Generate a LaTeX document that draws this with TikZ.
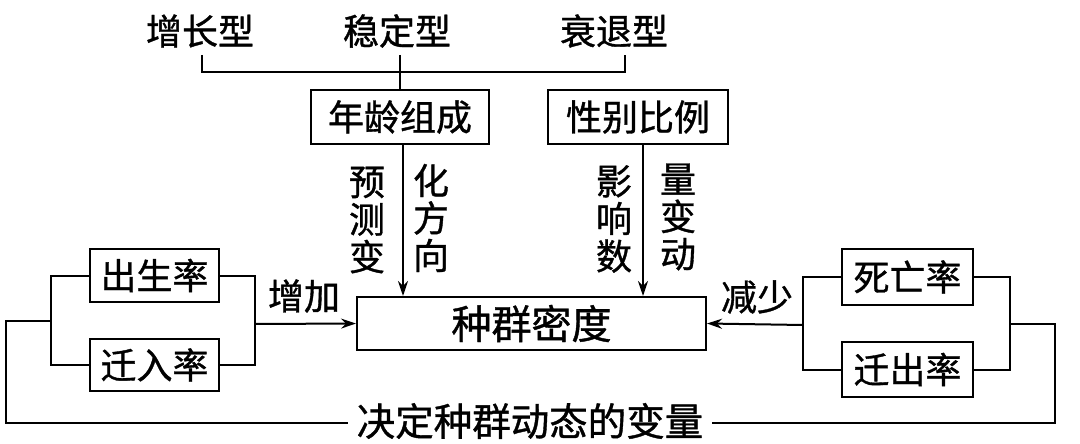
\documentclass[tikz,border=0pt]{standalone}
\usepackage{fontspec}
\setmainfont{Noto Sans CJK SC}[RawFeature={embolden=1}]
\usetikzlibrary{arrows.meta}
\begin{document}
\begin{tikzpicture}[x=1pt,y=-1pt,
  every node/.style={font=\fontsize{36}{37.5}\selectfont, inner sep=0pt},
  bx/.style={draw, line width=2pt, minimum height=54pt},
  ln/.style={line width=2pt},
  arr/.style={line width=2pt, -{Stealth[length=15pt,width=10pt,inset=5pt]}},
  vlab/.style={align=center, text width=40pt}]
\useasboundingbox (0,0) rectangle (1080,444);
% top types
\node (t1) at (200,31) {增长型};
\node (t2) at (397,31) {稳定型};
\node (t3) at (614,31) {衰退型};
\coordinate (c1) at (202,55);
\coordinate (c2) at (400,55);
\coordinate (c3) at (625,55);
\coordinate (j1) at (202,72);
\coordinate (j2) at (400,72);
\coordinate (j3) at (625,72);
% boxes
\node[bx, minimum width=178pt] (age) at (400,117) {年龄组成};
\node[bx, minimum width=180pt] (sex) at (638,117) {性别比例};
\node[bx, minimum width=349pt, minimum height=53pt, font=\fontsize{40}{42}\selectfont] (dens) at (531.5,323.5) {种群密度};
\node[bx, minimum width=129pt, minimum height=53pt] (birth) at (154.5,275.5) {出生率};
\node[bx, minimum width=129pt, minimum height=52pt] (immig) at (154.5,365) {迁入率};
\node[bx, minimum width=131pt, minimum height=56pt] (death) at (907.5,277) {死亡率};
\node[bx, minimum width=131pt, minimum height=55pt] (emig) at (907.5,369.5) {迁出率};
% top connectors
\draw[ln] (c1) -- (j1) -- (j3) -- (c3);
\draw[ln] (c2) -- (age.north);
% arrows from age and sex
\draw[arr] ([xshift=3pt]age.south) -- ([xshift=3pt]age.south |- dens.north);
\draw[arr] ([xshift=5pt]sex.south) -- ([xshift=5pt]sex.south |- dens.north);
% vertical labels
\node[vlab] (l1) at (367,220) {预\\测\\变};
\node[vlab] (l2) at (431,218) {化\\方\\向};
\node[vlab] (l3) at (614,219) {影\\响\\数};
\node[vlab] (l4) at (678,217) {量\\变\\动};
% left brackets
\coordinate (lbL) at (51,321);
\coordinate (lbR) at (255,324);
\draw[ln] (birth.west) -- (51,275.5) -- (51,365) -- (immig.west);
\draw[ln] (birth.east) -- (255,275.5) -- (255,365) -- (immig.east);
\draw[arr] (lbR) -- (dens.west);
\node (inc) at (304,296) {增加};
% right brackets
\coordinate (rbL) at (803,325);
\coordinate (rbR) at (1010,324);
\draw[ln] (death.west) -- (803,277) -- (803,369.5) -- (emig.west);
\draw[ln] (death.east) -- (1010,277) -- (1010,369.5) -- (emig.east);
\draw[arr] (rbL) -- (dens.east);
\node (dec) at (757,297) {减少};
% bottom
\node[inner xsep=9pt, font=\fontsize{38.5}{40}\selectfont] (bot) at (530,421) {决定种群动态的变量};
\draw[ln] (lbL) -- (6,321) -- (6,423) -- (bot.west |- 0,423);
\draw[ln] (bot.east |- 0,423) -- (1055,423) -- (1055,324) -- (rbR);
\end{tikzpicture}
\end{document}
